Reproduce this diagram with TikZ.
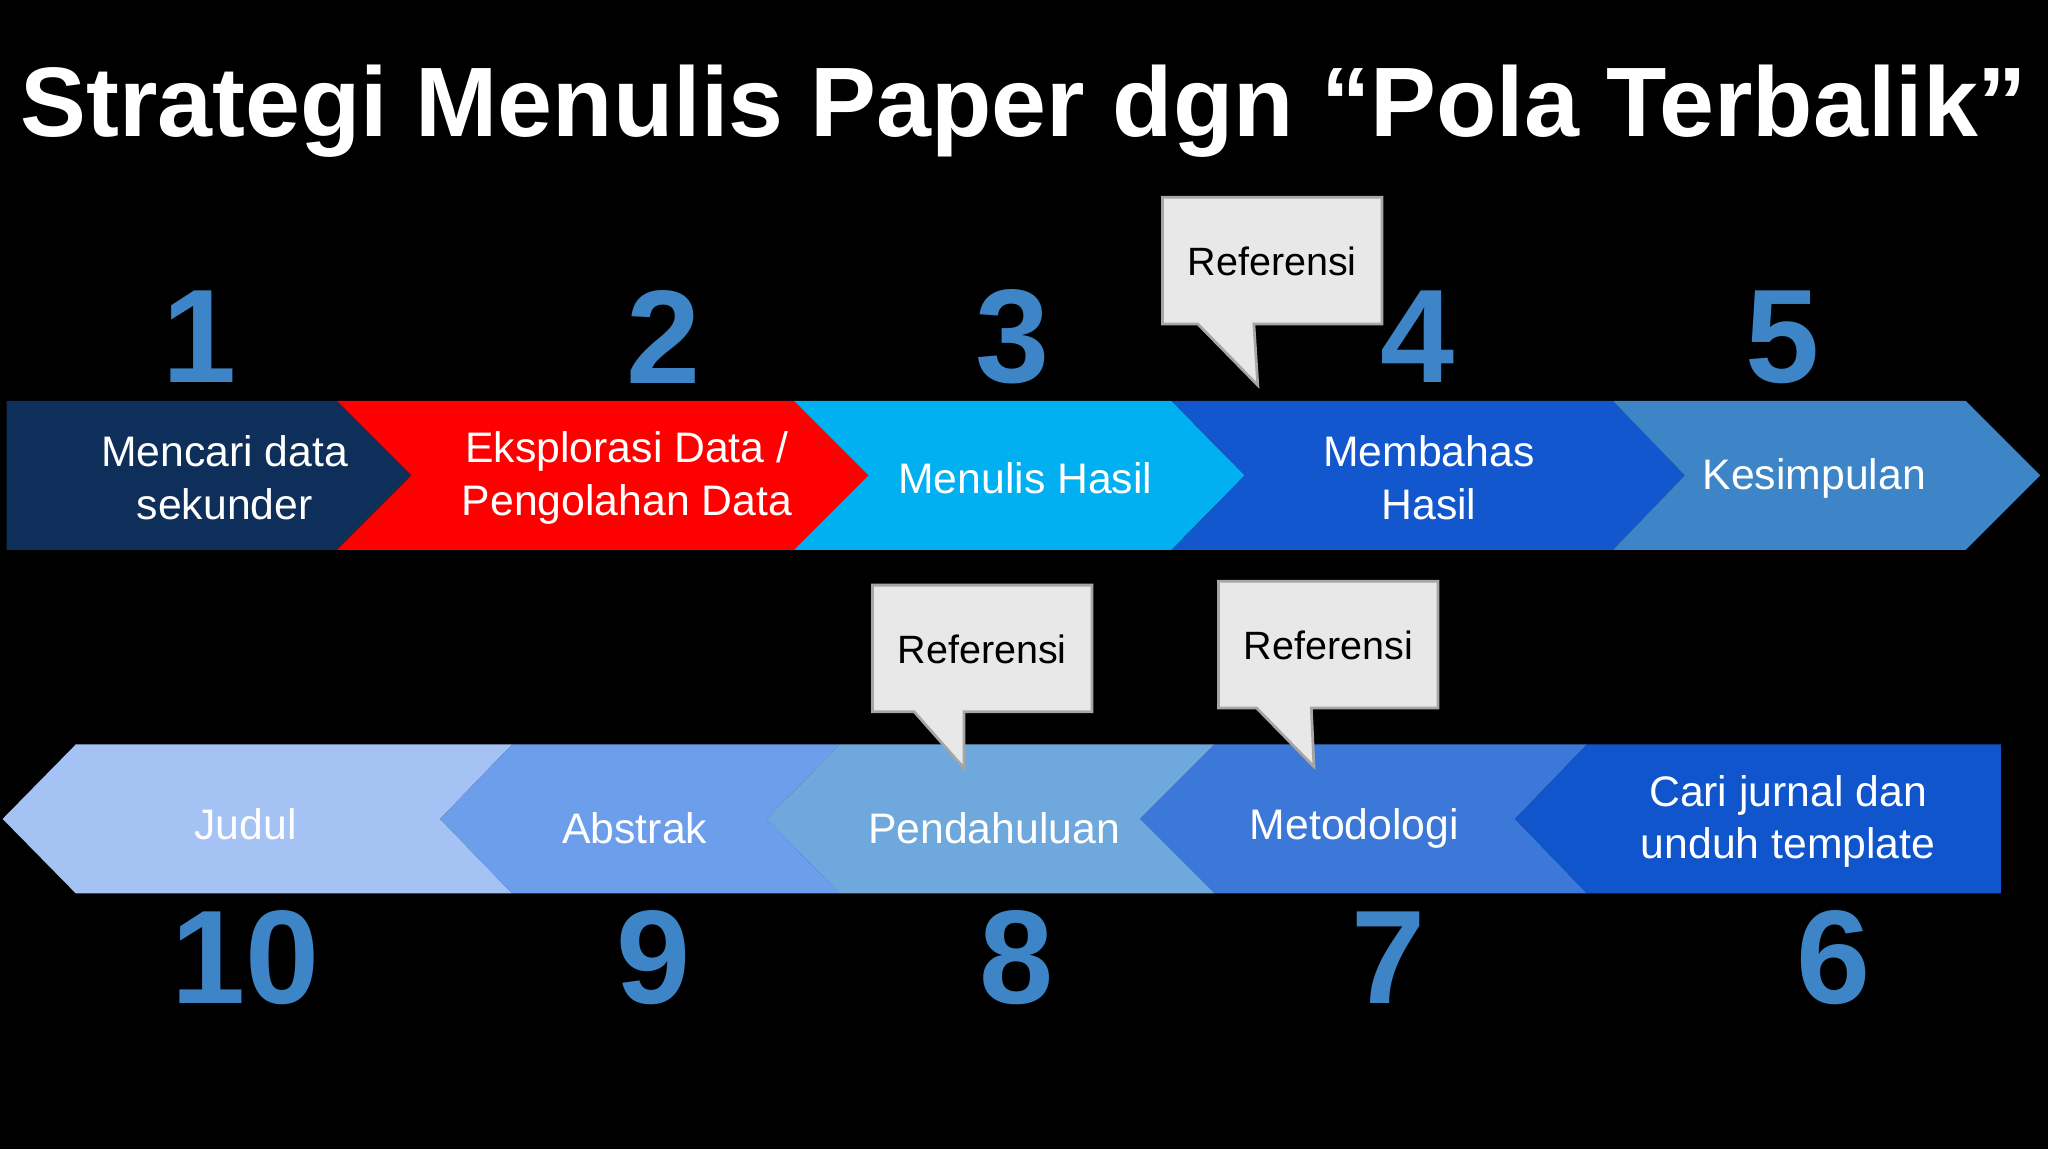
\documentclass[tikz,border=0pt]{standalone}
\usepackage{fontspec}
\setmainfont{Liberation Sans}
\begin{document}
\begin{tikzpicture}[x=0.01cm,y=-0.01cm,
  num/.style={text=numblue,font=\fontsize{29}{30}\selectfont\bfseries},
  lbl/.style={text=white,font=\fontsize{9.3}{11.5}\selectfont,align=center},
  callout/.style={fill=calgray,draw=gray!70,line width=0.6pt},
  reftext/.style={text=black,font=\fontsize{8.6}{10}\selectfont}]
\definecolor{numblue}{HTML}{3D85C6}
\definecolor{calgray}{HTML}{E8E8E8}
\definecolor{cA}{HTML}{0E2F5A}
\definecolor{cB}{HTML}{FF0000}
\definecolor{cC}{HTML}{00B0F0}
\definecolor{cD}{HTML}{1257CE}
\definecolor{cE}{HTML}{3D85C6}
\definecolor{cJ}{HTML}{A4C2F4}
\definecolor{cI}{HTML}{6D9EEB}
\definecolor{cH}{HTML}{6FA8DC}
\definecolor{cG}{HTML}{3C78D8}
\definecolor{cF}{HTML}{1155CC}
\fill[black] (0,0) rectangle (1568,880);
\useasboundingbox (0,0) rectangle (1568,880);
\node[text=white,font=\fontsize{21.5}{24}\selectfont\bfseries] (title) at (784,85) {Strategi Menulis Paper dgn “Pola Terbalik”};
% top row
\fill[cA] (5,307) -- (258,307) -- (315,364) -- (258,421) -- (5,421) -- cycle;
\fill[cB] (258,307) -- (608,307) -- (665,364) -- (608,421) -- (258,421) -- (315,364) -- cycle;
\fill[cC] (608,307) -- (897,307) -- (953,364) -- (897,421) -- (608,421) -- (665,364) -- cycle;
\fill[cD] (897,307) -- (1235,307) -- (1290,364) -- (1235,421) -- (897,421) -- (953,364) -- cycle;
\fill[cE] (1235,307) -- (1505,307) -- (1562,364) -- (1505,421) -- (1235,421) -- (1290,364) -- cycle;
% bottom row
\fill[cJ] (2,627) -- (58,570) -- (392,570) -- (337,627) -- (392,684) -- (58,684) -- cycle;
\fill[cI] (337,627) -- (392,570) -- (643,570) -- (587,627) -- (643,684) -- (392,684) -- cycle;
\fill[cH] (587,627) -- (643,570) -- (930,570) -- (873,627) -- (930,684) -- (643,684) -- cycle;
\fill[cG] (873,627) -- (930,570) -- (1215,570) -- (1160,627) -- (1215,684) -- (930,684) -- cycle;
\fill[cF] (1160,627) -- (1215,570) -- (1532,570) -- (1532,684) -- (1215,684) -- cycle;
% labels
\node[lbl] (l1) at (172,366) {Mencari data\\sekunder};
\node[lbl] (l2) at (480,366) {Eksplorasi Data /\\Pengolahan Data};
\node[lbl] (l3) at (785,366) {Menulis Hasil};
\node[lbl] (l4) at (1094,366) {Membahas\\Hasil};
\node[lbl] (l5) at (1389,366) {Kesimpulan};
\node[lbl] (l10) at (188,631) {Judul};
\node[lbl] (l9) at (486,634) {Abstrak};
\node[lbl] (l8) at (761,634) {Pendahuluan};
\node[lbl] (l7) at (1037,634) {Metodologi};
\node[lbl] (l6) at (1369,629) {Cari jurnal dan\\unduh template};
% numbers
\node[num] (n1) at (153,258) {1};
\node[num] (n2) at (508,258) {2};
\node[num] (n3) at (775,258) {3};
\node[num] (n4) at (1085,258) {4};
\node[num] (n5) at (1365,258) {5};
\node[num] (n10) at (188,733) {10};
\node[num] (n9) at (500,733) {9};
\node[num] (n8) at (778,733) {8};
\node[num] (n7) at (1063,733) {7};
\node[num] (n6) at (1404,733) {6};
% callouts
\draw[callout] (890,151) -- (1058,151) -- (1058,248) -- (960,248) -- (963,295) -- (917,248) -- (890,248) -- cycle;
\node[reftext] (r1) at (974,200) {Referensi};
\draw[callout] (668,448) -- (836,448) -- (836,545) -- (738,545) -- (738,588) -- (700,545) -- (668,545) -- cycle;
\node[reftext] (r2) at (752,497) {Referensi};
\draw[callout] (933,445) -- (1101,445) -- (1101,542) -- (1004,542) -- (1006,587) -- (962,542) -- (933,542) -- cycle;
\node[reftext] (r3) at (1017,494) {Referensi};
\end{tikzpicture}
\end{document}
